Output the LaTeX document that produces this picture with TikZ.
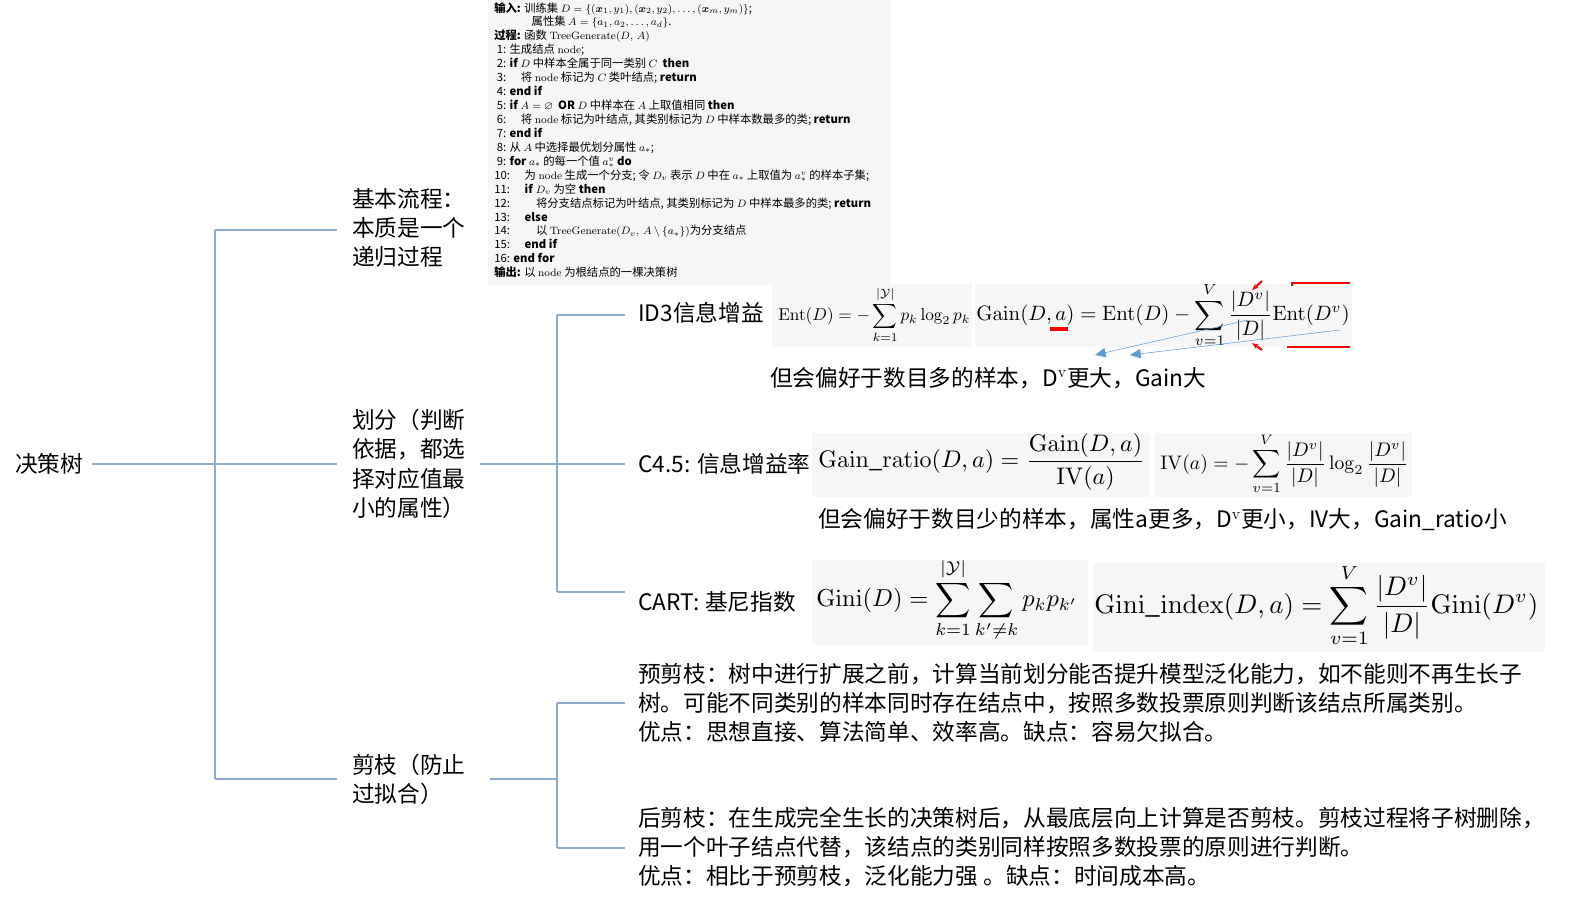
\documentclass[tikz,border=0pt]{standalone}
\usepackage{amsmath,amssymb,graphicx}
\usepackage[no-math]{fontspec}
\setmainfont{Noto Sans CJK SC}
\usetikzlibrary{arrows.meta}
\definecolor{lnc}{HTML}{8DA9D0}
\definecolor{arb}{HTML}{5B9BD5}
\definecolor{fbg}{HTML}{F6F6F6}
\tikzset{
 ln/.style={draw=lnc,line width=1pt},
 txt/.style={anchor=west,inner sep=0pt,font=\fontsize{17}{22}\selectfont},
 fm/.style={anchor=west,inner sep=0pt}
}
\begin{document}
\begin{tikzpicture}[x=0.75pt,y=-0.75pt]
\useasboundingbox (0,0) rectangle (1573,910);
% backgrounds
\fill[fbg] (488,0) rectangle (890,285);
\fill[fbg] (772,284) rectangle (972,347);
\fill[fbg] (975,284) rectangle (1352,347);
\fill[fbg] (812,433) rectangle (1150,497);
\fill[fbg] (1155,433) rectangle (1412,497);
\fill[fbg] (812,560) rectangle (1088,645);
\fill[fbg] (1093,563) rectangle (1545,652);
% root and tree
\node[txt] (root) at (15,464) {决策树};
\node[txt,align=left,font=\fontsize{17}{21.75}\selectfont] (basic) at (352,228) {基本流程：\\本质是一个\\递归过程};
\node[txt,align=left,font=\fontsize{17}{22.1}\selectfont] (split) at (352,464) {划分（判断\\依据，都选\\择对应值最\\小的属性）};
\node[txt,align=left,font=\fontsize{17}{21.75}\selectfont] (prune) at (352,779) {剪枝（防止\\过拟合）};
\coordinate (r0) at (92,464);
\coordinate (v1) at (215,464);
\draw[ln] (r0) -- (v1);
\draw[ln] (215,230) -- (215,779);
\draw[ln] (215,230) -- (337,230);
\draw[ln] (215,464) -- (337,464);
\draw[ln] (215,779) -- (337,779);
\draw[ln] (480,464) -- (557,464);
\draw[ln] (557,315) -- (557,592);
\draw[ln] (557,315) -- (625,315);
\draw[ln] (557,464) -- (625,464);
\draw[ln] (557,592) -- (625,592);
\draw[ln] (490,779) -- (557,779);
\draw[ln] (557,703) -- (557,848);
\draw[ln] (557,703) -- (625,703);
\draw[ln] (557,848) -- (625,848);
% algorithm
\node[anchor=north west,inner sep=0pt,align=left,font=\fontsize{8.5}{10.45}\selectfont] (algo) at (494,2) {%
\textbf{输入:} 训练集 $D=\{(\boldsymbol{x}_1,y_1),(\boldsymbol{x}_2,y_2),\ldots,(\boldsymbol{x}_m,y_m)\}$;\\
\hspace*{3.3em}属性集 $A=\{a_1,a_2,\ldots,a_d\}$.\\
\textbf{过程:} 函数 $\mathrm{TreeGenerate}(D,\,A)$\\
\ 1: 生成结点 $\mathrm{node}$;\\
\ 2: \textbf{if} $D$ 中样本全属于同一类别 $C$ \ \textbf{then}\\
\ 3: \quad 将 $\mathrm{node}$ 标记为 $C$ 类叶结点; \textbf{return}\\
\ 4: \textbf{end if}\\
\ 5: \textbf{if} $A=\varnothing$ \ \textbf{OR} $D$ 中样本在 $A$ 上取值相同 \textbf{then}\\
\ 6: \quad 将 $\mathrm{node}$ 标记为叶结点, 其类别标记为 $D$ 中样本数最多的类; \textbf{return}\\
\ 7: \textbf{end if}\\
\ 8: 从 $A$ 中选择最优划分属性 $a_*$;\\
\ 9: \textbf{for} $a_*$ 的每一个值 $a_*^v$ \textbf{do}\\
10: \quad 为 $\mathrm{node}$ 生成一个分支; 令 $D_v$ 表示 $D$ 中在 $a_*$ 上取值为 $a_*^v$ 的样本子集;\\
11: \quad \textbf{if} $D_v$ 为空 \textbf{then}\\
12: \qquad 将分支结点标记为叶结点, 其类别标记为 $D$ 中样本最多的类; \textbf{return}\\
13: \quad \textbf{else}\\
14: \qquad 以 $\mathrm{TreeGenerate}(D_v,\,A\setminus\{a_*\})$为分支结点\\
15: \quad \textbf{end if}\\
16: \textbf{end for}\\
\textbf{输出:} 以 $\mathrm{node}$ 为根结点的一棵决策树};
% ID3
\node[txt] (id3) at (638,313) {ID3信息增益};
\node[fm] (ent) at (778,315) {\resizebox{144pt}{!}{$\mathrm{Ent}(D)=-\displaystyle\sum_{k=1}^{|\mathcal{Y}|}p_k\log_2 p_k$}};
\node[fm] (gain) at (976,315) {\resizebox{280pt}{!}{$\mathrm{Gain}(D,a)=\mathrm{Ent}(D)-\displaystyle\sum_{v=1}^{V}\frac{|D^v|}{|D|}\mathrm{Ent}(D^v)$}};
\draw[red,line width=3pt] (1050,329) -- (1068,329);
\draw[red,line width=1.5pt,-{Stealth[length=5pt]}] (1262,281) -- (1252,290);
\draw[red,line width=1.5pt,-{Stealth[length=5pt]}] (1262,350) -- (1252,343);
\draw[red,line width=1.2pt] (1292,286) -- (1292,283) -- (1350,283);
\draw[red,line width=1.2pt] (1287,347) -- (1350,347);
\coordinate (a1s) at (1248,320);
\coordinate (a1e) at (1095,355);
\coordinate (a2s) at (1340,330);
\coordinate (a2e) at (1130,355);
\draw[arb,-{Triangle[length=8pt,width=7pt]}] (a1s) -- (a1e);
\draw[arb,-{Triangle[length=8pt,width=7pt]}] (a2s) -- (a2e);
\node[txt] (id3n) at (770,378) {但会偏好于数目多的样本，D$^{\mathrm{v}}$更大，Gain大};
% C4.5
\node[txt] (c45) at (638,464) {C4.5: 信息增益率};
\node[fm] (gr) at (818,462) {\resizebox{245pt}{!}{$\mathrm{Gain\_ratio}(D,a)=\dfrac{\mathrm{Gain}(D,a)}{\mathrm{IV}(a)}$}};
\node[fm] (iv) at (1160,464) {\resizebox{186pt}{!}{$\mathrm{IV}(a)=-\displaystyle\sum_{v=1}^{V}\frac{|D^v|}{|D|}\log_2\frac{|D^v|}{|D|}$}};
\node[txt] (c45n) at (818,520) {但会偏好于数目少的样本，属性\textit{a}更多，D$^{\mathrm{v}}$更小，IV大，Gain\_ratio小};
% CART
\node[txt] (cart) at (638,602) {CART: 基尼指数};
\node[fm] (gini) at (816,600) {\resizebox{196pt}{!}{$\mathrm{Gini}(D)=\displaystyle\sum_{k=1}^{|\mathcal{Y}|}\sum_{k'\neq k}p_kp_{k'}$}};
\node[fm] (ginii) at (1094,606) {\resizebox{333pt}{!}{$\mathrm{Gini\_index}(D,a)=\displaystyle\sum_{v=1}^{V}\frac{|D^v|}{|D|}\mathrm{Gini}(D^v)$}};
% pruning
\node[txt,align=left] (pre) at (638,703) {预剪枝：树中进行扩展之前，计算当前划分能否提升模型泛化能力，如不能则不再生长子\\树。可能不同类别的样本同时存在结点中，按照多数投票原则判断该结点所属类别。\\优点：思想直接、算法简单、效率高。缺点：容易欠拟合。};
\node[txt,align=left] (post) at (638,847) {后剪枝：在生成完全生长的决策树后，从最底层向上计算是否剪枝。剪枝过程将子树删除，\\用一个叶子结点代替，该结点的类别同样按照多数投票的原则进行判断。\\优点：相比于预剪枝，泛化能力强 。缺点：时间成本高。};
\end{tikzpicture}
\end{document}
